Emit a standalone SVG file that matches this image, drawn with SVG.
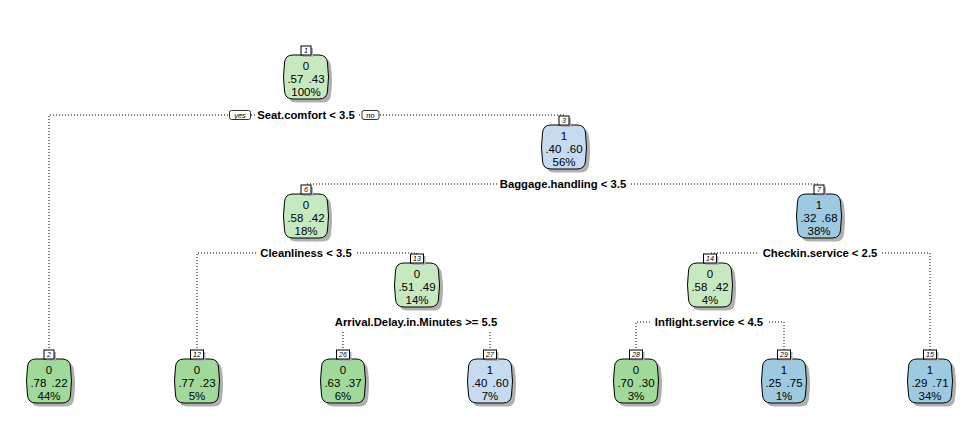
<svg xmlns="http://www.w3.org/2000/svg" xmlns:xlink="http://www.w3.org/1999/xlink" width="975" height="435" viewBox="0 0 975 435">
<style>
.bg{fill:#fff}
.con{fill:none;stroke:#000;stroke-width:1;stroke-dasharray:1 2}
.sh{fill:#b0b0b0}
.body{stroke:#000;stroke-width:1}
.g1{fill:#C7E9C0}.g2{fill:#A1D99B}.b1{fill:#C6DBEF}.b2{fill:#9ECAE1}
.nb{fill:#fff;stroke:#000;stroke-width:1}
.nt{font-family:"Liberation Sans",Arial,sans-serif;font-size:11.5px;fill:#000;text-anchor:middle}
.num{font-family:"Liberation Sans",Arial,sans-serif;font-size:7px;font-style:italic;fill:#000;text-anchor:middle}
.sl{font-family:"Liberation Sans",Arial,sans-serif;font-size:11.3px;font-weight:bold;fill:#000;text-anchor:middle}
.yn{font-family:"Liberation Sans",Arial,sans-serif;font-size:7.5px;font-style:italic;fill:#000;text-anchor:middle}
.ynb{fill:#fff;stroke:#000;stroke-width:0.8}
</style>
<defs>
<path id="shape" d="M-13,0 H13 Q21,0 21.5,8 Q23.5,22 21.5,36 Q21,44 13,44 H-13 Q-21,44 -21.5,36 Q-23.5,22 -21.5,8 Q-21,0 -13,0 Z"/>
</defs>
<rect class="bg" x="0" y="0" width="975" height="435"/>
<g id="connectors">
<path class="con" d="M49,351 V115 H564 V117"/>
<path class="con" d="M306,186 V184 H819 V186"/>
<path class="con" d="M197,351 V253 H417 V255"/>
<path class="con" d="M710,255 V253 H930 V351"/>
<path class="con" d="M343,351 V322 H490 V351"/>
<path class="con" d="M636,351 V322 H784 V351"/>
</g>
<g id="split-labels">
<g id="split1">
<rect class="bg" x="255" y="108" width="102" height="14"/>
<text class="sl" x="306" y="119">Seat.comfort &lt; 3.5</text>
<rect class="ynb" x="229.5" y="110.5" width="21" height="9" rx="2"/>
<text class="yn" x="240" y="117.5">yes</text>
<rect class="ynb" x="362" y="110.5" width="17" height="9" rx="2"/>
<text class="yn" x="370.5" y="117.5">no</text>
</g>
<g id="split3"><rect class="bg" x="497" y="177" width="132" height="14"/><text class="sl" x="563" y="188">Baggage.handling &lt; 3.5</text></g>
<g id="split6"><rect class="bg" x="256" y="246" width="100" height="14"/><text class="sl" x="306" y="257">Cleanliness &lt; 3.5</text></g>
<g id="split7"><rect class="bg" x="758" y="246" width="124" height="14"/><text class="sl" x="820" y="257">Checkin.service &lt; 2.5</text></g>
<g id="split13"><rect class="bg" x="330" y="315" width="172" height="15"/><text class="sl" x="416" y="326">Arrival.Delay.in.Minutes &gt;= 5.5</text></g>
<g id="split14"><rect class="bg" x="651" y="315" width="116" height="14"/><text class="sl" x="709" y="326">Inflight.service &lt; 4.5</text></g>
</g>
<g id="node1" transform="translate(306,55)">
<use xlink:href="#shape" class="sh" x="3.5" y="3.5"/><use xlink:href="#shape" class="body g1"/>
<rect class="sh" x="-3" y="-7" width="10" height="9"/><rect class="nb" x="-5" y="-9" width="10" height="9"/><text class="num" x="0" y="-2">1</text>
<text class="nt" y="15">0</text><text class="nt" y="28" word-spacing="2">.57 .43</text><text class="nt" y="40.5">100%</text>
</g>
<g id="node2" transform="translate(49,359)">
<use xlink:href="#shape" class="sh" x="3.5" y="3.5"/><use xlink:href="#shape" class="body g2"/>
<rect class="sh" x="-3" y="-7" width="10" height="9"/><rect class="nb" x="-5" y="-9" width="10" height="9"/><text class="num" x="0" y="-2">2</text>
<text class="nt" y="15">0</text><text class="nt" y="28" word-spacing="2">.78 .22</text><text class="nt" y="40.5">44%</text>
</g>
<g id="node3" transform="translate(564,125)">
<use xlink:href="#shape" class="sh" x="3.5" y="3.5"/><use xlink:href="#shape" class="body b1"/>
<rect class="sh" x="-3" y="-7" width="10" height="9"/><rect class="nb" x="-5" y="-9" width="10" height="9"/><text class="num" x="0" y="-2">3</text>
<text class="nt" y="15">1</text><text class="nt" y="28" word-spacing="2">.40 .60</text><text class="nt" y="40.5">56%</text>
</g>
<g id="node6" transform="translate(306,194)">
<use xlink:href="#shape" class="sh" x="3.5" y="3.5"/><use xlink:href="#shape" class="body g1"/>
<rect class="sh" x="-3" y="-7" width="10" height="9"/><rect class="nb" x="-5" y="-9" width="10" height="9"/><text class="num" x="0" y="-2">6</text>
<text class="nt" y="15">0</text><text class="nt" y="28" word-spacing="2">.58 .42</text><text class="nt" y="40.5">18%</text>
</g>
<g id="node7" transform="translate(819,194)">
<use xlink:href="#shape" class="sh" x="3.5" y="3.5"/><use xlink:href="#shape" class="body b2"/>
<rect class="sh" x="-3" y="-7" width="10" height="9"/><rect class="nb" x="-5" y="-9" width="10" height="9"/><text class="num" x="0" y="-2">7</text>
<text class="nt" y="15">1</text><text class="nt" y="28" word-spacing="2">.32 .68</text><text class="nt" y="40.5">38%</text>
</g>
<g id="node12" transform="translate(197,359)">
<use xlink:href="#shape" class="sh" x="3.5" y="3.5"/><use xlink:href="#shape" class="body g2"/>
<rect class="sh" x="-4.5" y="-7" width="13" height="9"/><rect class="nb" x="-6.5" y="-9" width="13" height="9"/><text class="num" x="0" y="-2">12</text>
<text class="nt" y="15">0</text><text class="nt" y="28" word-spacing="2">.77 .23</text><text class="nt" y="40.5">5%</text>
</g>
<g id="node13" transform="translate(417,263)">
<use xlink:href="#shape" class="sh" x="3.5" y="3.5"/><use xlink:href="#shape" class="body g1"/>
<rect class="sh" x="-4.5" y="-7" width="13" height="9"/><rect class="nb" x="-6.5" y="-9" width="13" height="9"/><text class="num" x="0" y="-2">13</text>
<text class="nt" y="15">0</text><text class="nt" y="28" word-spacing="2">.51 .49</text><text class="nt" y="40.5">14%</text>
</g>
<g id="node14" transform="translate(710,263)">
<use xlink:href="#shape" class="sh" x="3.5" y="3.5"/><use xlink:href="#shape" class="body g1"/>
<rect class="sh" x="-4.5" y="-7" width="13" height="9"/><rect class="nb" x="-6.5" y="-9" width="13" height="9"/><text class="num" x="0" y="-2">14</text>
<text class="nt" y="15">0</text><text class="nt" y="28" word-spacing="2">.58 .42</text><text class="nt" y="40.5">4%</text>
</g>
<g id="node15" transform="translate(930,359)">
<use xlink:href="#shape" class="sh" x="3.5" y="3.5"/><use xlink:href="#shape" class="body b2"/>
<rect class="sh" x="-4.5" y="-7" width="13" height="9"/><rect class="nb" x="-6.5" y="-9" width="13" height="9"/><text class="num" x="0" y="-2">15</text>
<text class="nt" y="15">1</text><text class="nt" y="28" word-spacing="2">.29 .71</text><text class="nt" y="40.5">34%</text>
</g>
<g id="node26" transform="translate(343,359)">
<use xlink:href="#shape" class="sh" x="3.5" y="3.5"/><use xlink:href="#shape" class="body g2"/>
<rect class="sh" x="-4.5" y="-7" width="13" height="9"/><rect class="nb" x="-6.5" y="-9" width="13" height="9"/><text class="num" x="0" y="-2">26</text>
<text class="nt" y="15">0</text><text class="nt" y="28" word-spacing="2">.63 .37</text><text class="nt" y="40.5">6%</text>
</g>
<g id="node27" transform="translate(490,359)">
<use xlink:href="#shape" class="sh" x="3.5" y="3.5"/><use xlink:href="#shape" class="body b1"/>
<rect class="sh" x="-4.5" y="-7" width="13" height="9"/><rect class="nb" x="-6.5" y="-9" width="13" height="9"/><text class="num" x="0" y="-2">27</text>
<text class="nt" y="15">1</text><text class="nt" y="28" word-spacing="2">.40 .60</text><text class="nt" y="40.5">7%</text>
</g>
<g id="node28" transform="translate(636,359)">
<use xlink:href="#shape" class="sh" x="3.5" y="3.5"/><use xlink:href="#shape" class="body g2"/>
<rect class="sh" x="-4.5" y="-7" width="13" height="9"/><rect class="nb" x="-6.5" y="-9" width="13" height="9"/><text class="num" x="0" y="-2">28</text>
<text class="nt" y="15">0</text><text class="nt" y="28" word-spacing="2">.70 .30</text><text class="nt" y="40.5">3%</text>
</g>
<g id="node29" transform="translate(784,359)">
<use xlink:href="#shape" class="sh" x="3.5" y="3.5"/><use xlink:href="#shape" class="body b2"/>
<rect class="sh" x="-4.5" y="-7" width="13" height="9"/><rect class="nb" x="-6.5" y="-9" width="13" height="9"/><text class="num" x="0" y="-2">29</text>
<text class="nt" y="15">1</text><text class="nt" y="28" word-spacing="2">.25 .75</text><text class="nt" y="40.5">1%</text>
</g>
</svg>
